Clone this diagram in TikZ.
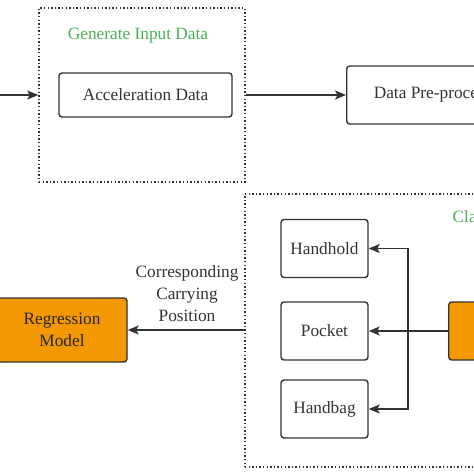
\documentclass[tikz,border=0pt]{standalone}
\usepackage{xcolor}
\usepackage{fontspec}
\setmainfont{Liberation Serif}
\usepackage{tikz}
\usetikzlibrary{arrows,arrows.meta,shapes,positioning}
\definecolor{ink}{HTML}{333333}
\definecolor{boxorange}{HTML}{F39800}
\definecolor{titlegreen}{HTML}{4DAF55}
\tikzset{
  every picture/.style = {
    line width = 1.4pt,
    >={Stealth[length=11pt,width=9pt,inset=2.5pt]},
    draw = ink,
    text = ink,
    font = \fontsize{17.3}{22}\selectfont,
  }
  ,
  box/.style = {
    rectangle,
    rounded corners = 3pt,
    draw = ink,
    line width = 1.4pt,
    inner sep = 0pt,
    minimum width = 87pt,
    minimum height = 58pt
  }
  , % filled boxes
  model/.style = {
    box,
    fill = boxorange,
    text = black!85
  }
  , % dotted frames
  group/.style = {
    rectangle,
    draw = ink,
    line width = 1.4pt,
    dash pattern = on 1.4pt off 2.2pt,
    inner sep = 0pt
  }
  , % titles of frames
  label-group/.style = {
    text = titlegreen,
    inner sep = 0pt
  }
}

\begin{document}
\begin{tikzpicture}[x=1pt, y=-1pt]
\useasboundingbox (0,0) rectangle (474,474);
\clip (0,0) rectangle (474,474);

\node[group, minimum width = 206pt, minimum height = 174pt] at (142,95) (gen) {};
\node[label-group] at (138,36) (gentitle) {Generate Input Data};
\node[box, minimum width = 173pt, minimum height = 44pt] at (145.5,95) (acc) {Acceleration Data};
\node[box, anchor = west, minimum width = 194pt] at (346,95) (pre) {Data Pre-processing};
\coordinate (in) at (-5,95);
\draw[->] (in) -- (gen);
\draw[->] (gen) -- (pre);

\node[group, minimum width = 280pt, minimum height = 273pt] at (385,330.5) (cls) {};
\node[label-group, anchor = west] at (452,216) (clstitle) {Classification};
\node[box] at (324.5,248.5) (handhold) {Handhold};
\node[box] at (324.5,331) (pocket) {Pocket};
\node[box] at (324.5,409) (handbag) {Handbag};
\node[model, anchor = west, minimum width = 120pt] at (448,331) (clf) {Classifier};
\coordinate (fork) at (408,331);
\draw (clf) -- (fork);
\draw[->] (fork) -- (pocket);
\draw[->] (fork) |- (handhold);
\draw[->] (fork) |- (handbag);

\node[model, minimum width = 130pt, minimum height = 64pt, align = center] at (62,330) (reg) {Regression\\Model};
\node[align = center, inner sep = 0pt] at (187,294) (carry) {Corresponding\\Carrying\\Position};
\draw[->] (cls.west |- reg) -- (reg);
\end{tikzpicture}
\end{document}
